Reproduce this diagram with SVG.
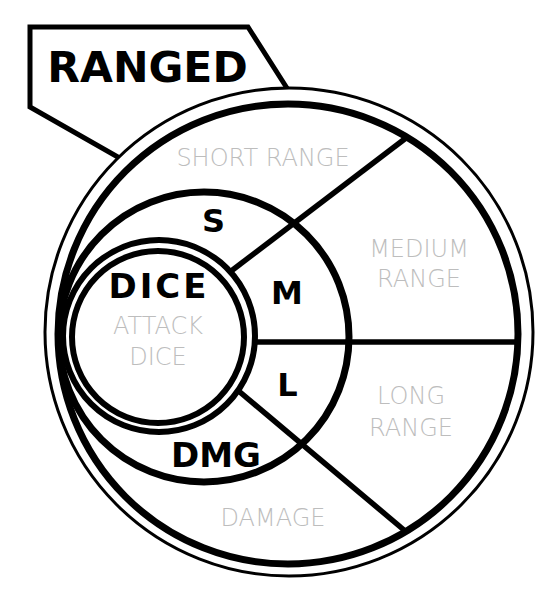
<svg xmlns="http://www.w3.org/2000/svg" width="560" height="612" viewBox="0 0 560 612">
  <style>
    .ring { fill: none; stroke: #000; stroke-width: 7; }
    .thin { fill: #fff; stroke: #000; stroke-width: 3; }
    .dice { fill: #fff; stroke: #000; stroke-width: 6; }
    .conn { stroke: #000; stroke-width: 5.5; fill: none; }
    .bold { font-family: "DejaVu Sans", Verdana, sans-serif; font-weight: bold; fill: #000; text-anchor: middle; }
    .gray { font-family: "DejaVu Sans", Verdana, sans-serif; font-weight: 200; fill: #bdbdbd; text-anchor: middle; font-size: 24px; }
  </style>
  <rect width="560" height="612" fill="#fff"/>

  <g id="title-tab">
    <polygon points="30,27 248,27 292,96 130,164 30,107" fill="#fff" stroke="#000" stroke-width="5" stroke-linejoin="miter"/>
    <text class="bold" x="147.5" y="82" font-size="42.5">RANGED</text>
  </g>

  <g id="outer-border">
    <circle class="thin" cx="289" cy="332" r="244"/>
  </g>

  <g id="range-ring">
    <circle class="ring" cx="288" cy="334" r="230"/>
  </g>

  <g id="sml-ring">
    <circle class="ring" cx="204" cy="337" r="145"/>
  </g>

  <g id="connectors">
    <line class="conn" x1="222" y1="278" x2="406" y2="138"/>
    <line class="conn" x1="240" y1="342" x2="519" y2="342"/>
    <line class="conn" x1="228" y1="382" x2="404" y2="530"/>
  </g>

  <g id="dice">
    <circle class="dice" cx="159" cy="336" r="96"/>
    <circle class="dice" cx="158" cy="337" r="86"/>
    <text class="bold" x="159" y="298" font-size="34" letter-spacing="3">DICE</text>
    <text class="gray" x="158" y="334">ATTACK</text>
    <text class="gray" x="158" y="365">DICE</text>
  </g>

  <g id="short">
    <text class="bold" x="213.5" y="232" font-size="32">S</text>
    <text class="gray" x="263" y="166">SHORT RANGE</text>
  </g>

  <g id="medium">
    <text class="bold" x="287" y="304" font-size="32">M</text>
    <text class="gray" x="419" y="257">MEDIUM</text>
    <text class="gray" x="419" y="287">RANGE</text>
  </g>

  <g id="long">
    <text class="bold" x="287.5" y="396" font-size="32">L</text>
    <text class="gray" x="411" y="404">LONG</text>
    <text class="gray" x="411" y="436">RANGE</text>
  </g>

  <g id="damage">
    <text class="bold" x="216" y="467" font-size="34">DMG</text>
    <text class="gray" x="273" y="526">DAMAGE</text>
  </g>
</svg>
